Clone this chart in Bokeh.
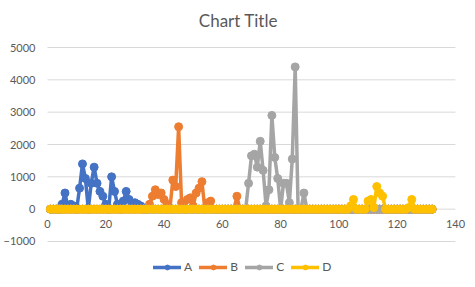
from bokeh.plotting import figure
from bokeh.models import Legend, LegendItem, FixedTicker, Range1d, ColumnDataSource, Label
from bokeh.core.properties import value
from bokeh.embed import file_html
from bokeh.resources import INLINE

# x positions (point index)
x = list(range(1, 133))

# Series values, x = 1..132
series_a = [
    0, 0, 0, 0, 150, 500, 50, 150, 100, 0,            # 1-10
    650, 1400, 950, 0, 800, 1300, 800, 550, 400, 150,  # 11-20
    0, 1000, 550, 150, 0, 250, 550, 300, 150, 200,     # 21-30
    150, 100, 0, 0, 0, 0, 0, 0, 0, 0,                  # 31-40
    0, 0, 0, 0, 0, 0, 0, 0, 0, 0,                      # 41-50
    0, 0, 0, 0, 0, 0, 0, 0, 0, 0,                      # 51-60
    0, 0, 0, 0, 0, 0, 0, 0, 0, 0,                      # 61-70
    0, 0, 0, 0, 0, 0, 0, 0, 0, 0,                      # 71-80
    0, 0, 0, 0, 0, 0, 0, 0, 0, 0,                      # 81-90
    0, 0, 0, 0, 0, 0, 0, 0, 0, 0,                      # 91-100
    0, 0, 0, 0, 0, 0, 0, 0, 0, 0,                      # 101-110
    0, 0, 0, 0, 0, 0, 0, 0, 0, 0,                      # 111-120
    0, 0, 0, 0, 0, 0, 0, 0, 0, 0,                      # 121-130
    0, 0,                                              # 131-132
]
series_b = [
    0, 0, 0, 0, 0, 0, 0, 0, 0, 0,                      # 1-10
    0, 0, 0, 0, 0, 0, 0, 0, 0, 0,                      # 11-20
    0, 0, 0, 0, 0, 0, 0, 0, 0, 0,                      # 21-30
    0, 0, 0, 0, 150, 400, 600, 450, 500, 300,          # 31-40
    150, 0, 900, 700, 2550, 200, 0, 300, 350, 100,     # 41-50
    500, 650, 850, 0, 200, 250, 0, 0, 0, 0,            # 51-60
    0, 0, 0, 0, 400, 0, 0, 0, 0, 0,                    # 61-70
    0, 0, 0, 0, 0, 0, 0, 0, 0, 0,                      # 71-80
    0, 0, 0, 0, 0, 0, 0, 0, 0, 0,                      # 81-90
    0, 0, 0, 0, 0, 0, 0, 0, 0, 0,                      # 91-100
    0, 0, 0, 0, 0, 0, 0, 0, 0, 0,                      # 101-110
    0, 0, 0, 0, 0, 0, 0, 0, 0, 0,                      # 111-120
    0, 0, 0, 0, 0, 0, 0, 0, 0, 0,                      # 121-130
    0, 0,                                              # 131-132
]
series_c = [
    0, 0, 0, 0, 0, 0, 0, 0, 0, 0,                      # 1-10
    0, 0, 0, 0, 0, 0, 0, 0, 0, 0,                      # 11-20
    0, 0, 0, 0, 0, 0, 0, 0, 0, 0,                      # 21-30
    0, 0, 0, 0, 0, 0, 0, 0, 0, 0,                      # 31-40
    0, 0, 0, 0, 0, 0, 0, 0, 0, 0,                      # 41-50
    0, 0, 0, 0, 0, 0, 0, 0, 0, 0,                      # 51-60
    0, 0, 0, 0, 0, 0, 0, 0, 800, 1650,                 # 61-70
    1700, 1300, 2100, 1200, 100, 600, 2900, 1600, 950, 0,  # 71-80
    800, 800, 200, 1550, 4400, 0, 0, 500, 0, 0,        # 81-90
    0, 0, 0, 0, 0, 0, 0, 0, 0, 0,                      # 91-100
    0, 0, 0, 0, 0, 0, 0, 0, 0, 0,                      # 101-110
    0, 0, 0, 0, 0, 0, 0, 0, 0, 0,                      # 111-120
    0, 0, 0, 0, 0, 0, 0, 0, 0, 0,                      # 121-130
    0, 0,                                              # 131-132
]
series_d = [
    0, 0, 0, 0, 0, 0, 0, 0, 0, 0,                      # 1-10
    0, 0, 0, 0, 0, 0, 0, 0, 0, 0,                      # 11-20
    0, 0, 0, 0, 0, 0, 0, 0, 0, 0,                      # 21-30
    0, 0, 0, 0, 0, 0, 0, 0, 0, 0,                      # 31-40
    0, 0, 0, 0, 0, 0, 0, 0, 0, 0,                      # 41-50
    0, 0, 0, 0, 0, 0, 0, 0, 0, 0,                      # 51-60
    0, 0, 0, 0, 0, 0, 0, 0, 0, 0,                      # 61-70
    0, 0, 0, 0, 0, 0, 0, 0, 0, 0,                      # 71-80
    0, 0, 0, 0, 0, 0, 0, 0, 0, 0,                      # 81-90
    0, 0, 0, 0, 0, 0, 0, 0, 0, 0,                      # 91-100
    0, 0, 0, 100, 300, 0, 0, 0, 0, 250,                # 101-110
    300, 50, 700, 500, 400, 0, 0, 0, 0, 0,             # 111-120
    0, 0, 0, 50, 300, 0, 0, 0, 0, 0,                   # 121-130
    0, 0,                                              # 131-132
]

names = ["A", "B", "C", "D"]
values = [series_a, series_b, series_c, series_d]
colors = ["#4472C4", "#ED7D31", "#A5A5A5", "#FFC000"]

y_ticks = [-1000, 0, 1000, 2000, 3000, 4000, 5000]
x_ticks = [0, 20, 40, 60, 80, 100, 120, 140]
x_tick_labels = ["0", "20", "40", "60", "80", "100", "120", "140"]
x_min, x_max = 0, 140
title_text = "Chart Title"

FONT = "Lato"
TXT = "#595959"
TICK_SIZE = "11px"

# The frame covers the whole picture height and reaches the right edge,
# so that the tick texts at 0 and 140 are not clipped; the value axis is
# scaled so that the 0..140 x -1000..5000 band sits where the reference has it.
p = figure(width=475, height=287, output_backend="svg", toolbar_location=None,
           title=None,
           x_range=Range1d(-3.09, 146.88), y_range=Range1d(-2423, 6454),
           min_border_left=38, min_border_right=0, min_border_top=0,
           min_border_bottom=0)
p.outline_line_color = None
p.background_fill_color = "white"
p.border_fill_color = "white"

p.xaxis.visible = False
p.yaxis.ticker = FixedTicker(ticks=y_ticks)
ax = p.yaxis[0]
ax.axis_line_color = None
ax.major_tick_line_color = None
ax.minor_tick_line_color = None
ax.major_tick_out = 0
ax.major_tick_in = 0
ax.minor_tick_out = 0
ax.minor_tick_in = 0
ax.major_label_text_font = FONT
ax.major_label_text_font_size = TICK_SIZE
ax.major_label_text_color = TXT
ax.major_label_standoff = 3

p.xgrid.visible = False
p.ygrid.visible = False

# horizontal gridlines over the 0..140 span only
p.segment(x0=[x_min] * len(y_ticks), x1=[x_max] * len(y_ticks),
          y0=y_ticks, y1=y_ticks, line_color="#D9D9D9", line_width=1)

# title
p.add_layout(Label(x=65.5, y=5835, text=title_text, text_font=FONT,
                   text_font_size="17px", text_color=TXT,
                   text_align="center", text_baseline="middle"))

# x tick labels, just under the zero line (as Excel draws them)
tick_src = ColumnDataSource(dict(x=x_ticks, y=[0] * len(x_ticks), t=x_tick_labels))
p.text(x="x", y="y", text="t", source=tick_src, text_font=value(FONT),
       text_font_size=TICK_SIZE, text_color=TXT, text_align="center",
       text_baseline="middle", y_offset=15)

items = []
for name, vals, col in zip(names, values, colors):
    lr = p.line(x, vals, line_color=col, line_width=3.5, line_join="round", line_cap="round")
    sr = p.scatter(x, vals, marker="circle", size=8, fill_color=col, line_color=col)
    items.append(LegendItem(label=name, renderers=[lr, sr]))

legend = Legend(items=items, orientation="horizontal", location=(115, 13),
                border_line_color=None, background_fill_alpha=0,
                label_text_font=FONT, label_text_font_size="12px",
                label_text_color=TXT, glyph_width=28, glyph_height=12,
                label_width=8, label_height=12,
                spacing=7, label_standoff=3, padding=2, margin=0)
p.add_layout(legend, "center")

open("out.html", "w").write(file_html(p, INLINE))
